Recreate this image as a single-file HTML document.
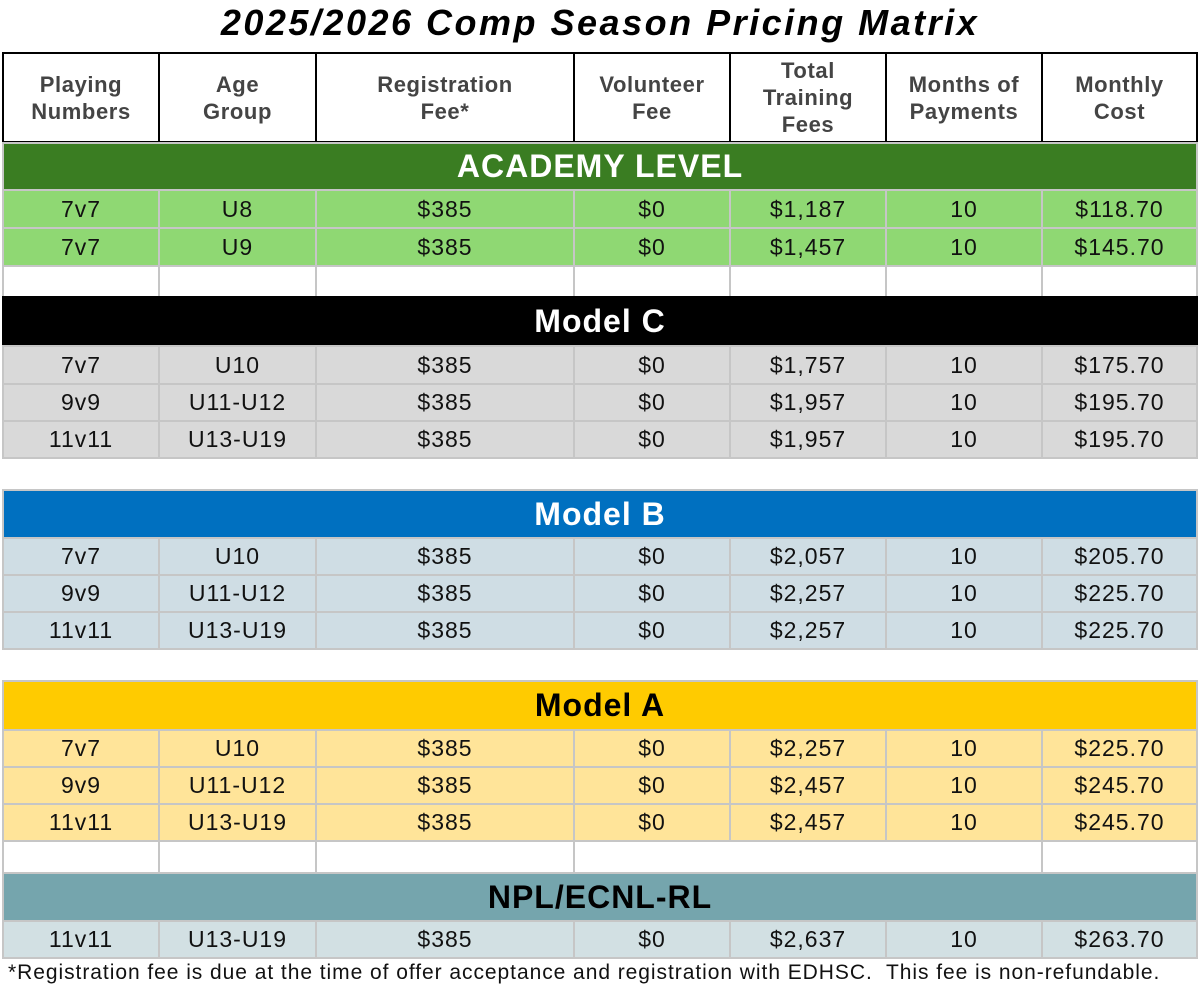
<!DOCTYPE html>
<html><head><meta charset="utf-8"><style>
body{margin:0;width:1200px;height:990px;background:#fff;font-family:"Liberation Sans",sans-serif;position:relative;overflow:hidden}
.title{position:absolute;top:2px;left:0;width:1200px;text-align:center;font-size:36px;letter-spacing:2.5px;font-weight:bold;font-style:italic;color:#000}
.row{position:absolute;left:2px;width:1196px;display:flex;box-sizing:border-box;border-left:2px solid #c6c6c6;border-top:2px solid #c6c6c6}
.row div{box-sizing:border-box;border-right:2px solid #c6c6c6;border-bottom:2px solid #c6c6c6;display:flex;align-items:center;justify-content:center;text-align:center;font-size:23px;letter-spacing:1px;color:#111}
.c1{width:156px}.c2{width:157px}.c3{width:258px}.c4{width:156px}.c5{width:156px}.c6{width:156px}.c7{width:155px}
.h{border-color:#000 !important}.h div{border-color:#000 !important;font-weight:bold;color:#444 !important;font-size:22px !important;letter-spacing:0.6px !important;line-height:27px}
.s div{width:1194px;font-weight:bold;font-size:32px !important;letter-spacing:1px}
.g div{background:#3a7d22;color:#fff}.gr div{background:#8fd873}
.k div{background:#000;color:#fff;border-color:#000}.kr div{background:#d9d9d9}
.b div{background:#0070c0;color:#fff}.br div{background:#cfdde4}
.y div{background:#ffcb00;color:#000}.yr div{background:#ffe499}
.t div{background:#75a5ad;color:#000}.tr div{background:#d2e0e3}
.foot{position:absolute;top:961px;left:8px;font-size:21px;letter-spacing:0.95px;color:#111;white-space:nowrap}
</style></head><body>
<div class="title">2025/2026 Comp Season Pricing Matrix</div>

<div class="row h" style="top:52px;height:91px"><div class="c1">Playing<br>Numbers</div><div class="c2">Age<br>Group</div><div class="c3">Registration<br>Fee*</div><div class="c4">Volunteer<br>Fee</div><div class="c5">Total<br>Training<br>Fees</div><div class="c6">Months of<br>Payments</div><div class="c7">Monthly<br>Cost</div></div>

<div class="row s g" style="top:142px;height:49px"><div>ACADEMY LEVEL</div></div>
<div class="row gr" style="top:189px;height:40px"><div class="c1">7v7</div><div class="c2">U8</div><div class="c3">$385</div><div class="c4">$0</div><div class="c5">$1,187</div><div class="c6">10</div><div class="c7">$118.70</div></div>
<div class="row gr" style="top:227px;height:40px"><div class="c1">7v7</div><div class="c2">U9</div><div class="c3">$385</div><div class="c4">$0</div><div class="c5">$1,457</div><div class="c6">10</div><div class="c7">$145.70</div></div>
<div class="row" style="top:265px;height:33px"><div class="c1"></div><div class="c2"></div><div class="c3"></div><div class="c4"></div><div class="c5"></div><div class="c6"></div><div class="c7"></div></div>

<div class="row s k" style="top:296px;height:51px;border-color:#000"><div>Model C</div></div>
<div class="row kr" style="top:345px;height:40px"><div class="c1">7v7</div><div class="c2">U10</div><div class="c3">$385</div><div class="c4">$0</div><div class="c5">$1,757</div><div class="c6">10</div><div class="c7">$175.70</div></div>
<div class="row kr" style="top:383px;height:39px"><div class="c1">9v9</div><div class="c2">U11-U12</div><div class="c3">$385</div><div class="c4">$0</div><div class="c5">$1,957</div><div class="c6">10</div><div class="c7">$195.70</div></div>
<div class="row kr" style="top:420px;height:39px"><div class="c1">11v11</div><div class="c2">U13-U19</div><div class="c3">$385</div><div class="c4">$0</div><div class="c5">$1,957</div><div class="c6">10</div><div class="c7">$195.70</div></div>

<div class="row s b" style="top:489px;height:50px"><div>Model B</div></div>
<div class="row br" style="top:537px;height:39px"><div class="c1">7v7</div><div class="c2">U10</div><div class="c3">$385</div><div class="c4">$0</div><div class="c5">$2,057</div><div class="c6">10</div><div class="c7">$205.70</div></div>
<div class="row br" style="top:574px;height:39px"><div class="c1">9v9</div><div class="c2">U11-U12</div><div class="c3">$385</div><div class="c4">$0</div><div class="c5">$2,257</div><div class="c6">10</div><div class="c7">$225.70</div></div>
<div class="row br" style="top:611px;height:39px"><div class="c1">11v11</div><div class="c2">U13-U19</div><div class="c3">$385</div><div class="c4">$0</div><div class="c5">$2,257</div><div class="c6">10</div><div class="c7">$225.70</div></div>

<div class="row s y" style="top:680px;height:51px"><div>Model A</div></div>
<div class="row yr" style="top:729px;height:39px"><div class="c1">7v7</div><div class="c2">U10</div><div class="c3">$385</div><div class="c4">$0</div><div class="c5">$2,257</div><div class="c6">10</div><div class="c7">$225.70</div></div>
<div class="row yr" style="top:766px;height:39px"><div class="c1">9v9</div><div class="c2">U11-U12</div><div class="c3">$385</div><div class="c4">$0</div><div class="c5">$2,457</div><div class="c6">10</div><div class="c7">$245.70</div></div>
<div class="row yr" style="top:803px;height:39px"><div class="c1">11v11</div><div class="c2">U13-U19</div><div class="c3">$385</div><div class="c4">$0</div><div class="c5">$2,457</div><div class="c6">10</div><div class="c7">$245.70</div></div>
<div class="row" style="top:840px;height:34px"><div class="c1"></div><div class="c2"></div><div class="c3"></div><div style="width:468px"></div><div class="c7"></div></div>

<div class="row s t" style="top:872px;height:50px"><div>NPL/ECNL-RL</div></div>
<div class="row tr" style="top:920px;height:39px"><div class="c1">11v11</div><div class="c2">U13-U19</div><div class="c3">$385</div><div class="c4">$0</div><div class="c5">$2,637</div><div class="c6">10</div><div class="c7">$263.70</div></div>

<div class="foot">*Registration fee is due at the time of offer acceptance and registration with EDHSC.&nbsp; This fee is non-refundable.</div>
</body></html>
